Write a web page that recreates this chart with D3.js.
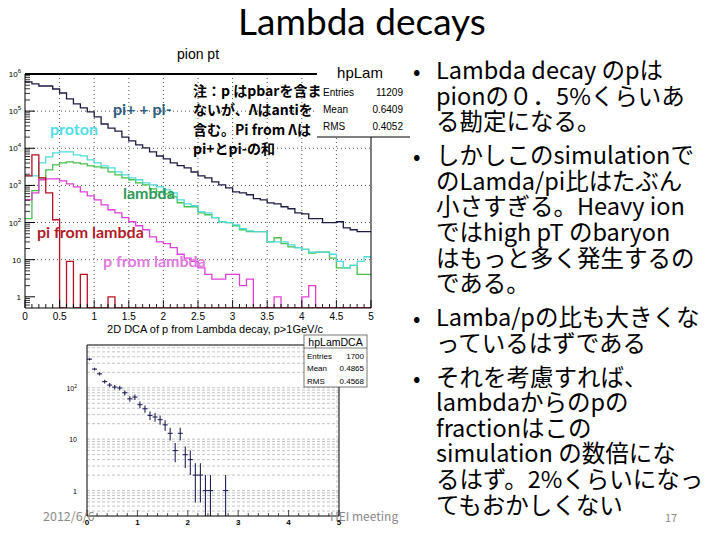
<!DOCTYPE html>
<html><head><meta charset="utf-8">
<script src="https://cdn.jsdelivr.net/npm/d3@7"></script>
<style>body{margin:0;background:#fff}svg{display:block}</style>
</head><body><svg id="c" width="720" height="540"></svg>
<script>
// ---------------- data ----------------
const ptBinWidth = 0.1;
// pion pt panel (counts per 0.1 GeV/c bin, 0-5 GeV/c)
const pionPt = [610000,540000,475000,475000,395000,308000,213000,156000,122000,95000,
  70000,45000,35000,29000,20000,15800,12300,10300,8000,6200,
  5200,4050,3400,2970,2300,1800,1600,1250,1040,860,
  670,630,560,440,410,340,320,266,235,183,
  172,127,127,99,99,105,72,64,57,57];
const protonPt = [1810,1810,4050,5870,7520,8000,8000,6650,6250,4880,
  4050,3370,2970,2320,1930,1600,1420,1170,1040,916,
  762,632,410,320,283,195,183,135,105,99,
  87,68,60,57,57,30,30,30,25,21,
  19,16,16,16,14,9,6,7,9,12];
const lambdaPt = [127,720,1600,2630,3580,4050,4310,4050,3810,3370,
  3160,2970,2320,1930,1600,1420,1170,1040,810,673,
  594,494,341,266,266,183,162,135,105,99,
  82,64,57,57,57,30,39,27,22,21,
  19,15,16,16,11,6,6,7,4,4];
const pFromLambdaPt = [410,632,1420,1500,1500,1330,1100,916,673,525,
  410,301,221,183,135,105,82,64,41,30,
  27,21,14,11,9,6,4,3,3,4,
  4,2,3,0,0,0,1,0,0,0,
  1,2,0,0,0,0,0,0,0,0];
const piFromLambdaPt = [1810,6650,1600,632,119,0,9,0,4,0,
  0,0,1,0,0,0,0,0,0,0,
  0,0,0,0,0,0,0,0,0,0,
  0,0,0,0,0,0,0,0,0,0,
  0,0,0,0,0,0,0,0,0,0];
const ptLabels = ["pi+ + pi-","proton","lambda","pi from lambda","p from lambda"];
const ptColors = ["#1c1c44","#52dada","#46c04a","#e040d8","#b81022"];
const ptLabelColors = ["#2b5d7d","#4fdde6","#2e9a58","#b01c28","#e07ae0"];
const xTicksTop = [0,0.5,1,1.5,2,2.5,3,3.5,4,4.5,5];
const yTicksTop = [1,10,100,1000,10000,100000,1000000];
const statsTop = {name:"hpLam", rows:[["Entries","11209"],["Mean","0.6409"],["RMS","0.4052"]]};
const noteLines = ["注：p はpbarを含ま","ないが、Λはantiを","含む。Pi from Λは","pi+とpi-の和"];

// DCA panel (counts per 0.1 bin)
const dcaCounts = [360,231,187,132,113,103,99,80,61,66,
  47,39,29,27,24,19,13,6,13,5,
  4,2,2,1,1,0,0,1,0,0];
const xTicksBot = [0,1,2,3,4,5];
const yTicksBot = [1,10,100];
const statsBot = {name:"hpLamDCA", rows:[["Entries","1700"],["Mean","0.4865"],["RMS","0.4568"]]};

const slideTitle = "Lambda decays";
const bullets = [
  ["Lambda decay のpは","pionの０．5%くらいあ","る勘定になる。"],
  ["しかしこのsimulationで","のLamda/pi比はたぶん","小さすぎる。Heavy ion","ではhigh pT のbaryon","はもっと多く発生するの","である。"],
  ["Lamba/pの比も大きくな","っているはずである"],
  ["それを考慮すれば、","lambdaからのpの","fractionはこの","simulation の数倍にな","るはず。2%くらいになっ","てもおかしくない"]
];
const footer = {date:"2012/6/6", meeting:"HEI meeting", page:"17"};

// ---------------- drawing ----------------
const svg = d3.select('#c');
const JP = "'Noto Sans CJK JP', sans-serif";
const RF = "'Liberation Sans', Arial, sans-serif";
svg.append('rect').attr('width',720).attr('height',540).attr('fill','#fff');

// ---- top panel ----
const xT = d3.scaleLinear().domain([0,5]).range([25,371]);
const yT = d3.scaleLog().domain([0.5,1e6]).range([308,74]);
const gT = svg.append('g');
svg.append('defs').append('clipPath').attr('id','clipT')
  .append('rect').attr('x',25).attr('y',74).attr('width',346).attr('height',234);

gT.append('text').attr('x',177).attr('y',59).style('font-family',RF).style('font-size','14px').text('pion pt');

// grid
xTicksTop.filter(v=>v>0&&v<5).forEach(v=>{
  gT.append('line').attr('x1',xT(v)).attr('x2',xT(v)).attr('y1',74).attr('y2',308)
    .attr('stroke','#222').attr('stroke-width',0.8).attr('stroke-dasharray','1,3');
});
yTicksTop.filter(v=>v>1&&v<1e6).forEach(v=>{
  gT.append('line').attr('x1',25).attr('x2',371).attr('y1',yT(v)).attr('y2',yT(v))
    .attr('stroke','#222').attr('stroke-width',0.8).attr('stroke-dasharray','1,3');
});

// histograms
const yMinT = yT.domain()[0];
const stepLine = d3.line().curve(d3.curveStepAfter).x(d=>xT(d[0])).y(d=>yT(Math.max(d[1],yMinT)));
function histPoints(arr){ const p = arr.map((v,i)=>[i*ptBinWidth, v]); p.push([arr.length*ptBinWidth, arr[arr.length-1]]); return p; }
const drawOrder = [[pionPt,0],[lambdaPt,2],[protonPt,1],[pFromLambdaPt,3],[piFromLambdaPt,4]];
const hg = gT.append('g').attr('clip-path','url(#clipT)');
drawOrder.forEach(([arr,ci])=>{
  hg.append('path').attr('d',stepLine(histPoints(arr))).attr('fill','none')
    .attr('stroke',ptColors[ci]).attr('stroke-width',1.3);
});

// axes frame
gT.append('line').attr('x1',25).attr('x2',25).attr('y1',74).attr('y2',308).attr('stroke','#000');
gT.append('line').attr('x1',25).attr('x2',371).attr('y1',308).attr('y2',308).attr('stroke','#000');
gT.append('line').attr('x1',371).attr('x2',371).attr('y1',74).attr('y2',308).attr('stroke','#000');
gT.append('line').attr('x1',25).attr('x2',371).attr('y1',74).attr('y2',74).attr('stroke','#000').attr('stroke-width',2);

// y ticks
yTicksTop.forEach(v=>{
  gT.append('line').attr('x1',25).attr('x2',35).attr('y1',yT(v)).attr('y2',yT(v)).attr('stroke','#000');
  if(v<1e6) for(let m=2;m<10;m++){
    const mv=m*v; gT.append('line').attr('x1',25).attr('x2',30).attr('y1',yT(mv)).attr('y2',yT(mv)).attr('stroke','#000').attr('stroke-width',0.8);
  }
  const t = gT.append('text').attr('x',21).attr('y',yT(v)+3).attr('text-anchor','end')
    .style('font-family',RF).style('font-size','8px');
  if(v===1) t.text('1'); else if(v===10) t.text('10');
  else { t.append('tspan').text('10'); t.append('tspan').attr('dy',-4).style('font-size','6px').text(Math.round(Math.log10(v))); }
});
[0.6,0.7,0.8,0.9].forEach(v=>gT.append('line').attr('x1',25).attr('x2',30).attr('y1',yT(v)).attr('y2',yT(v)).attr('stroke','#000').attr('stroke-width',0.8));
// x ticks
d3.range(0,51).forEach(i=>{
  const v=i*0.1, major = i%5===0;
  gT.append('line').attr('x1',xT(v)).attr('x2',xT(v)).attr('y1',308).attr('y2',major?300:304).attr('stroke','#000').attr('stroke-width',0.9);
});
xTicksTop.forEach(v=>{
  gT.append('text').attr('x',xT(v)).attr('y',320).attr('text-anchor','middle')
    .style('font-family',RF).style('font-size','10px').text(String(v));
});

// stats box top
gT.append('rect').attr('x',317).attr('y',60).attr('width',93).attr('height',77).attr('fill','#fff');
gT.append('line').attr('x1',317).attr('x2',410).attr('y1',137).attr('y2',137).attr('stroke','#000');
gT.append('text').attr('x',360).attr('y',78).attr('text-anchor','middle').style('font-family',RF).style('font-size','15px').text(statsTop.name);
statsTop.rows.forEach((r,i)=>{
  gT.append('text').attr('x',323).attr('y',96+i*17).style('font-family',RF).style('font-size','10px').text(r[0]);
  gT.append('text').attr('x',403).attr('y',96+i*17).attr('text-anchor','end').style('font-family',RF).style('font-size','10px').text(r[1]);
});

// note text
noteLines.forEach((s,i)=>{
  gT.append('text').attr('x',193).attr('y',96+i*19.3).style('font-family',JP).style('font-weight','bold')
    .style('font-size','14px').text(s);
});
// curve labels
const labelPos = [[113,115],[50,135],[123,199],[37,238],[103,267]];
ptLabels.forEach((s,i)=>{
  gT.append('text').attr('x',labelPos[i][0]).attr('y',labelPos[i][1]).style('font-family',"Lato, sans-serif")
    .style('font-weight','bold').style('font-size','16px').attr('fill',ptLabelColors[i]).text(s);
});

// ---- bottom panel ----
const xB = d3.scaleLinear().domain([0,5]).range([87,339]);
const yB = d3.scaleLog().domain([0.32,680]).range([516,345]);
const gB = svg.append('g');
svg.select('defs').append('clipPath').attr('id','clipB')
  .append('rect').attr('x',87).attr('y',345).attr('width',252).attr('height',171);
gB.append('text').attr('x',215).attr('y',333).attr('text-anchor','middle').style('font-family',RF).style('font-size','11px')
  .text('2D DCA of p from Lambda decay, p>1GeV/c');
// grid
[0.1,1,10,100].forEach(d=>{ for(let m=1;m<10;m++){ const v=m*d; if(v<yB.domain()[0]||v>yB.domain()[1]) continue;
  gB.append('line').attr('x1',87).attr('x2',339).attr('y1',yB(v)).attr('y2',yB(v))
    .attr('stroke','#9a9a9a').attr('stroke-width',0.6).attr('stroke-dasharray','3,2'); }});
gB.append('line').attr('x1',xB(5)-2).attr('x2',xB(5)-2).attr('y1',345).attr('y2',516).attr('stroke','#9a9a9a').attr('stroke-width',0.6).attr('stroke-dasharray','3,2');
// points
const eg = gB.append('g').attr('clip-path','url(#clipB)');
const yMinB = yB.domain()[0];
dcaCounts.forEach((n,i)=>{
  if(n<=0) return;
  const lo=i*0.1, hi=lo+0.1, c=lo+0.05, e=Math.sqrt(n);
  eg.append('line').attr('x1',xB(lo)).attr('x2',xB(hi)).attr('y1',yB(n)).attr('y2',yB(n)).attr('stroke','#22225a').attr('stroke-width',1.1);
  eg.append('line').attr('x1',xB(c)).attr('x2',xB(c)).attr('y1',yB(Math.max(n-e,yMinB))).attr('y2',yB(n+e)).attr('stroke','#22225a').attr('stroke-width',1.1);
});
// frame
gB.append('line').attr('x1',87).attr('x2',304).attr('y1',345).attr('y2',345).attr('stroke','#000');
gB.append('line').attr('x1',87).attr('x2',87).attr('y1',345).attr('y2',516).attr('stroke','#000');
gB.append('line').attr('x1',87).attr('x2',339).attr('y1',516).attr('y2',516).attr('stroke','#000');
gB.append('line').attr('x1',339).attr('x2',339).attr('y1',345).attr('y2',516).attr('stroke','#000');
d3.range(0,26).forEach(i=>{
  const v=i*0.2, major=i%5===0;
  gB.append('line').attr('x1',xB(v)).attr('x2',xB(v)).attr('y1',516).attr('y2',major?510:513).attr('stroke','#000').attr('stroke-width',0.7);
});
xTicksBot.forEach(v=>gB.append('text').attr('x',xB(v)).attr('y',525).attr('text-anchor','middle')
  .style('font-family',RF).style('font-size','8px').style('font-weight','bold').text(String(v)));
yTicksBot.forEach(v=>{
  const t=gB.append('text').attr('x',77).attr('y',yB(v)+3).attr('text-anchor','end').style('font-family',RF).style('font-size','7px');
  if(v===1) t.text('1'); else if(v===10) t.text('10');
  else { t.append('tspan').text('10'); t.append('tspan').attr('dy',-3).style('font-size','5px').text(Math.round(Math.log10(v))); }
});
// stats box bottom
gB.append('rect').attr('x',304).attr('y',335).attr('width',63).attr('height',52).attr('fill','#fff').attr('stroke','#555').attr('stroke-width',0.8);
gB.append('line').attr('x1',304).attr('x2',367).attr('y1',348).attr('y2',348).attr('stroke','#555').attr('stroke-width',0.8);
gB.append('text').attr('x',335.5).attr('y',346).attr('text-anchor','middle').style('font-family',RF).style('font-size','10.5px').text(statsBot.name);
statsBot.rows.forEach((r,i)=>{
  gB.append('text').attr('x',307).attr('y',359+i*12.3).style('font-family',RF).style('font-size','8px').text(r[0]);
  gB.append('text').attr('x',364).attr('y',359+i*12.3).attr('text-anchor','end').style('font-family',RF).style('font-size','8px').text(r[1]);
});

// ---- slide text ----
svg.append('text').attr('x',362).attr('y',35).attr('text-anchor','middle').style('font-family',"Lato, 'Noto Sans CJK JP', sans-serif")
  .style('font-size','37px').text(slideTitle);
const lineStep = 25.6, paraGap = 8.3;
let n=0;
bullets.forEach((para,p)=>{
  para.forEach((s,k)=>{
    const y = 79 + n*lineStep + p*paraGap;
    if(k===0) svg.append('text').attr('x',413).attr('y',y).style('font-family',JP).style('font-size','22px').text('•');
    svg.append('text').attr('x',436).attr('y',y).style('font-family',JP).style('font-size','23.5px').text(s);
    n++;
  });
});
svg.append('text').attr('x',43).attr('y',521).style('font-family',JP).style('font-size','12.5px').attr('fill','#8a8a8a').text(footer.date);
svg.append('text').attr('x',330).attr('y',521).style('font-family',JP).style('font-size','12px').attr('fill','#8a8a8a').text(footer.meeting);
svg.append('text').attr('x',665).attr('y',522).style('font-family',JP).style('font-size','11px').attr('fill','#8a8a8a').text(footer.page);
</script></body></html>
